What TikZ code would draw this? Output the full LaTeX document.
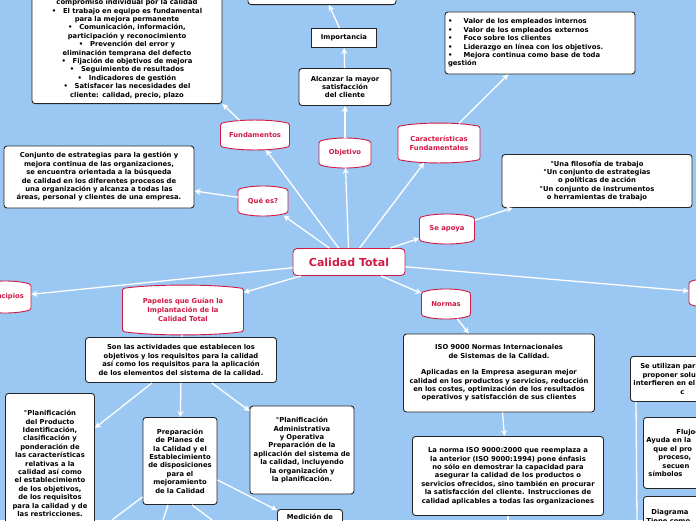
\documentclass[tikz,border=0pt]{standalone}
\usepackage{fontspec}
\setmainfont{DejaVu Sans}
\usetikzlibrary{arrows.meta}
\definecolor{bg}{HTML}{9BC8F2}
\definecolor{rd}{HTML}{D01A45}
\tikzset{
 box/.style={draw=black!85,fill=white,rounded corners=3pt,line width=0.9pt,align=center,inner sep=3pt,font=\fontsize{6.8}{8.4}\selectfont\bfseries},
 sqbox/.style={box,rounded corners=0pt},
 cat/.style={text=rd,align=center,font=\fontsize{6.8}{9}\selectfont\bfseries},
 con/.style={white,line width=1.3pt,-{Stealth[length=6pt,width=6pt]}},
 ln/.style={white,line width=1.3pt},
}
\newcommand{\cyl}[6]{% name,x,y,w,h,text
 \draw[rd,fill=white,line width=0.9pt,rounded corners=1.5pt]
  ({#2-#4/2},{#3-#5/2+3}) .. controls ({#2-#4/4},{#3-#5/2-1.5}) and ({#2+#4/4},{#3-#5/2-1.5}) .. ({#2+#4/2},{#3-#5/2+3})
  -- ({#2+#4/2},{#3+#5/2-3}) .. controls ({#2+#4/4},{#3+#5/2+1.5}) and ({#2-#4/4},{#3+#5/2+1.5}) .. ({#2-#4/2},{#3+#5/2-3}) -- cycle;
 \node[cat,minimum width=#4,minimum height=#5] (#1) at (#2,#3) {#6};}
\begin{document}
\begin{tikzpicture}[x=1pt,y=-1pt]
\hyphenpenalty=10000 \exhyphenpenalty=10000
\useasboundingbox (0,0) rectangle (696,520);
\clip (0,0) rectangle (696,520);
\fill[bg] (0,0) rectangle (696,520);

% boxes
\node[box,anchor=south,text width=184pt,inner ysep=5pt] (fundbox) at (127,104) {compromiso individual por la calidad\\
\textbullet\quad El trabajo en equipo es fundamental para la mejora permanente\\
\textbullet\quad Comunicación, información, participación y reconocimiento\\
\textbullet\quad Prevención del error y eliminación temprana del defecto\\
\textbullet\quad Fijación de objetivos de mejora\\
\textbullet\quad Seguimiento de resultados\\
\textbullet\quad Indicadores de gestión\\
\textbullet\quad Satisfacer las necesidades del cliente: calidad, precio, plazo};
\node[box,anchor=south,minimum width=148pt,minimum height=30pt] (topbox) at (322,5) {};
\node[sqbox,minimum width=65pt,minimum height=19pt] (imp) at (344,38) {Importancia};
\node[box,text width=86pt,minimum height=37pt] (alc) at (345,87) {Alcanzar la mayor satisfacción del cliente};
\node[box,align=left,text width=184pt,minimum height=62pt] (carbox) at (540,43) {\textbullet\quad\ \ Valor de los empleados internos\\
\textbullet\quad\ \ Valor de los empleados externos\\
\textbullet\quad\ \ Foco sobre los clientes\\
\textbullet\quad\ \ Liderazgo en línea con los objetivos.\\
\textbullet\quad\ \ Mejora continua como base de toda\\gestión};
\node[box,text width=184pt,minimum height=62pt] (quebox) at (99,177) {Conjunto de estrategias para la gestión y mejora continua de las organizaciones, se encuentra orientada a la búsqueda de calidad en los diferentes procesos de una organización y alcanza a todas las áreas, personal y clientes de una empresa.};
\node[box,text width=184pt,minimum height=53pt] (apobox) at (597,181) {°Una filosofía de trabajo\\°Un conjunto de estrategias o políticas de acción\\°Un conjunto de instrumentos o herramientas de trabajo};
\node[box,text width=185pt,minimum height=45pt] (son) at (181,360) {Son las actividades que establecen los objetivos y los requisitos para la calidad así como los requisitos para la aplicación de los elementos del sistema de la calidad.};
\node[box,text width=185pt,minimum height=78pt] (iso) at (499,373) {ISO 9000 Normas Internacionales de Sistemas de la Calidad.\\[8pt]Aplicadas en la Empresa aseguran mejor calidad en los productos y servicios, reducción en los costes, optimización de los resultados operativos y satisfacción de sus clientes};
\node[box,text width=185pt,minimum height=79pt] (norma) at (508,476) {La norma ISO 9000:2000 que reemplaza a la anterior (ISO 9000:1994) pone énfasis no sólo en demostrar la capacidad para asegurar la calidad de los productos o servicios ofrecidos, sino también en procurar la satisfacción del cliente. Instrucciones de calidad aplicables a todas las organizaciones};
\node[box,anchor=north,text width=83pt,minimum height=140pt] (prod) at (50,393) {°Planificación del Producto Identificación, clasificación y ponderación de las características relativas a la calidad así como el establecimiento de los objetivos, de los requisitos para la calidad y de las restricciones.};
\node[box,text width=68pt,minimum height=87pt] (prep) at (180,461) {Preparación de Planes de la Calidad y el Establecimien\-to de disposiciones para el mejoramiento de la Calidad};
\node[box,text width=98pt,minimum height=88pt] (adm) at (302,450) {°Planificación Administrativa y Operativa\\Preparación de la aplicación del sistema de la calidad, incluyendo la organización y la planificación.};
\node[box,anchor=north,text width=59pt,minimum height=35pt,text depth=20pt] (med) at (310,509) {Medición de};
\node[box,anchor=north west,align=left,text width=150pt,minimum height=45pt] (util) at (630,356) {\ \ \ Se utilizan para\\\ \ \ \ proponer soluciones\\interfieren en el\\\hspace*{47pt}c};
\node[box,anchor=north west,align=left,text width=150pt,minimum height=71pt] (flujo) at (643,417) {\hspace*{30pt}Flujograma\\Ayuda en la\\\hspace*{7pt}que el pro\\\hspace*{12pt}proceso,\\\hspace*{16pt}secuen\\\hspace*{2pt}símbolos};
\node[box,anchor=north west,align=left,text width=150pt,minimum height=40pt] (diag) at (643,496) {\hspace*{5pt}Diagrama\\Tiene como};

% category nodes
\cyl{fund}{255}{135}{69}{29}{Fundamentos}
\cyl{obj}{345}{153}{52}{29}{Objetivo}
\cyl{car}{439}{143}{82}{39}{Características\\Fundamentales}
\cyl{que}{263}{201}{50}{29}{Qué es?}
\cyl{apo}{447}{229}{55}{29}{Se apoya}
\cyl{prin}{5}{297}{52}{31}{Principios}
\cyl{pap}{183}{310}{121}{49}{Papeles que Guían la\\Implantación de la\\Calidad Total}
\cyl{nor}{446}{304}{49}{29}{Normas}
\cyl{rgt}{712}{293}{46}{28}{}
\node[draw=rd,fill=white,line width=0.9pt,rounded corners=4pt,minimum width=112pt,minimum height=27pt,text=rd,font=\fontsize{11}{13}\selectfont\bfseries] (ct) at (349,262) {Calidad Total};

% connectors
\draw[con] (ct) -- (fund);
\draw[con] (ct) -- (obj);
\draw[con] (ct) -- (car);
\draw[con] (ct) -- (que);
\draw[con] (ct) -- (apo);
\draw[con] (ct) -- (prin);
\draw[con] (ct) -- (pap);
\draw[con] (ct) -- (nor);
\draw[con] (ct) -- (rgt);
\draw[con] (fund) -- (fundbox.south east);
\draw[con] (que) -- (quebox);
\draw[con] (obj) -- (alc);
\draw[con] (alc) -- (imp);
\draw[con] (imp) -- (topbox);
\draw[con] (car) -- (carbox);
\draw[con] (apo) -- (apobox);
\draw[ln] (pap) -- (son);
\draw[con] (son) -- (prod);
\draw[con] (son) -- (prep);
\draw[con] (son) -- (adm);
\draw[con] (prep) -- (med);
\coordinate (b1) at (112,520); \coordinate (b2) at (163,520); \coordinate (b3) at (212,520);
\draw[ln] (prep.south west) ++(0,-8) -- (b1);
\draw[ln] (prep.south) ++(-12,0) -- (b2);
\draw[ln] (prep.south) ++(12,0) -- (b3);
\draw[con] (nor) -- (iso);
\draw[con] (iso) -- (norma);
\coordinate (b4) at (508,520); \draw[ln] (norma) -- (b4);
\coordinate (b5) at (637,520); \draw[ln] ([xshift=6pt]util.south west) -- (b5);
\end{tikzpicture}
\end{document}
